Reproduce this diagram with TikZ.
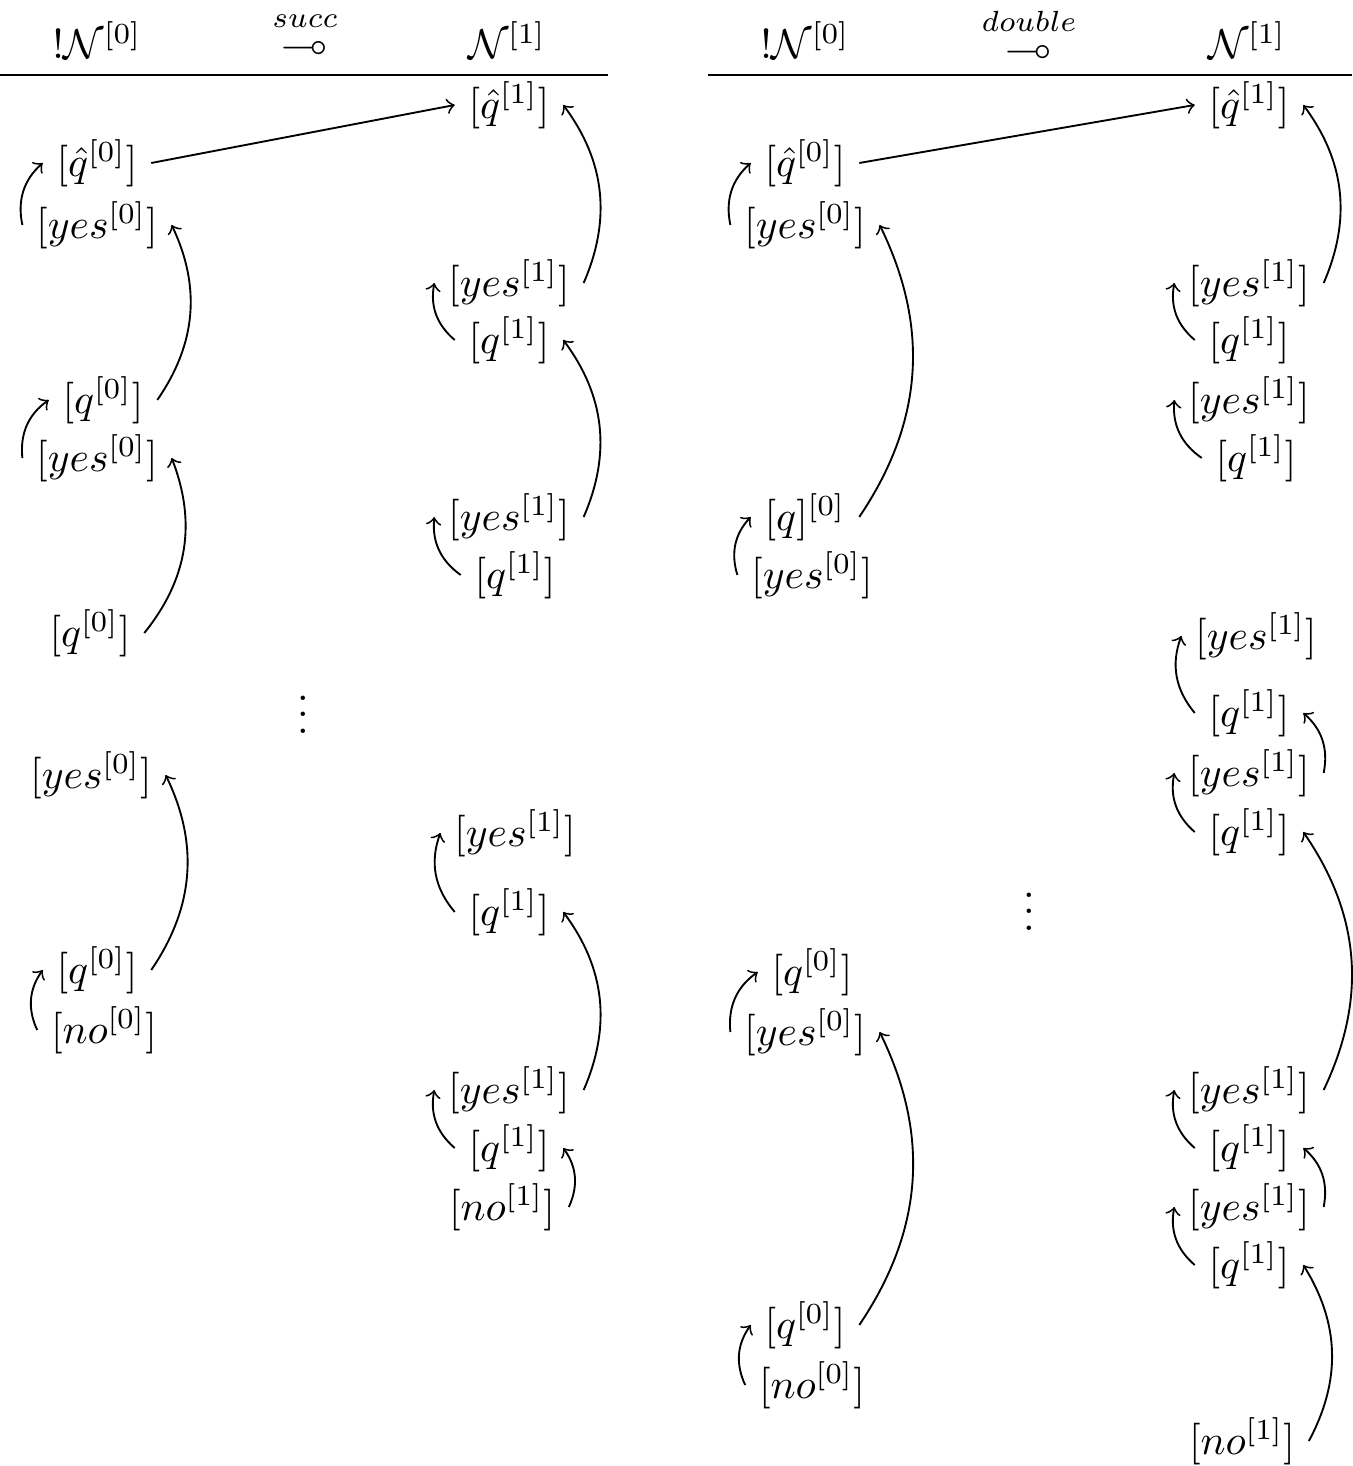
\documentclass[tikz,border=0pt]{standalone}
\usepackage{amsmath,amssymb}
\begin{document}
\begin{tikzpicture}[x=0.24pt,y=-0.24pt,
  every node/.style={inner sep=0pt,outer sep=3.33pt},
  arr/.style={->,line width=0.45pt},
  rulel/.style={line width=0.6pt}]
\useasboundingbox (0,0) rectangle (1352,1466);
% ---------- left panel ----------
\node (LhA) at (97,40) {$!\mathcal{N}^{[0]}$};
\node (LhB) at (305,35) {$\overset{succ}{\multimap}$};
\node (LhC) at (507,40) {$\mathcal{N}^{[1]}$};
\coordinate (LrA) at (0,75);
\coordinate (LrB) at (608,75);
\draw[rulel] (LrA) -- (LrB);
\node (Lhq1) at (509,105) {$[\hat{q}^{[1]}]$};
\node (Lhq0) at (97,163) {$[\hat{q}^{[0]}]$};
\node (Ly0a) at (97,225) {$[yes^{[0]}]$};
\node (Ly1a) at (509,283) {$[yes^{[1]}]$};
\node (Lq1a) at (509,340) {$[q^{[1]}]$};
\node (Lq0a) at (103,400) {$[q^{[0]}]$};
\node (Ly0b) at (97,458) {$[yes^{[0]}]$};
\node (Ly1b) at (509,517) {$[yes^{[1]}]$};
\node (Lq1b) at (515,575) {$[q^{[1]}]$};
\node (Lq0b) at (90,633) {$[q^{[0]}]$};
\node (Ldots) at (303,702) {$\vdots$};
\node (Ly0c) at (91,775) {$[yes^{[0]}]$};
\node (Ly1c) at (515,833) {$[yes^{[1]}]$};
\node (Lq1c) at (509,912) {$[q^{[1]}]$};
\node (Lq0c) at (97,970) {$[q^{[0]}]$};
\node (Ln0) at (104,1030) {$[no^{[0]}]$};
\node (Ly1d) at (509,1090) {$[yes^{[1]}]$};
\node (Lq1d) at (509,1148) {$[q^{[1]}]$};
\node (Ln1) at (502,1207) {$[no^{[1]}]$};
\draw[arr] (Lhq0.east) -- (Lhq1.west);
\draw[arr] (Ly0a.west) to[bend left] (Lhq0.west);
\draw[arr] (Lq0a.east) to[bend right] (Ly0a.east);
\draw[arr] (Ly1a.east) to[bend right] (Lhq1.east);
\draw[arr] (Lq1a.west) to[bend left] (Ly1a.west);
\draw[arr] (Ly0b.west) to[bend left] (Lq0a.west);
\draw[arr] (Lq0b.east) to[bend right] (Ly0b.east);
\draw[arr] (Ly1b.east) to[bend right] (Lq1a.east);
\draw[arr] (Lq1b.west) to[bend left] (Ly1b.west);
\draw[arr] (Lq0c.east) to[bend right] (Ly0c.east);
\draw[arr] (Ln0.west) to[bend left] (Lq0c.west);
\draw[arr] (Lq1c.west) to[bend left] (Ly1c.west);
\draw[arr] (Ly1d.east) to[bend right] (Lq1c.east);
\draw[arr] (Lq1d.west) to[bend left] (Ly1d.west);
\draw[arr] (Ln1.east) to[bend right] (Lq1d.east);
% ---------- right panel ----------
\node (RhA) at (805,40) {$!\mathcal{N}^{[0]}$};
\node (RhB) at (1029,35) {$\overset{double}{\multimap}$};
\node (RhC) at (1247,40) {$\mathcal{N}^{[1]}$};
\coordinate (RrA) at (708,75);
\coordinate (RrB) at (1352,75);
\draw[rulel] (RrA) -- (RrB);
\node (Rhq1) at (1249,105) {$[\hat{q}^{[1]}]$};
\node (Rhq0) at (805,163) {$[\hat{q}^{[0]}]$};
\node (Ry0a) at (805,225) {$[yes^{[0]}]$};
\node (Ry1a) at (1249,283) {$[yes^{[1]}]$};
\node (Rq1a) at (1249,340) {$[q^{[1]}]$};
\node (Ry1b) at (1249,400) {$[yes^{[1]}]$};
\node (Rq1b) at (1256,458) {$[q^{[1]}]$};
\node (Rq0a) at (805,517) {$[q]^{[0]}$};
\node (Ry0b) at (812,575) {$[yes^{[0]}]$};
\node (Ry1c) at (1256,636) {$[yes^{[1]}]$};
\node (Rq1c) at (1249,713) {$[q^{[1]}]$};
\node (Ry1d) at (1249,773) {$[yes^{[1]}]$};
\node (Rq1d) at (1249,832) {$[q^{[1]}]$};
\node (Rdots) at (1029,899) {$\vdots$};
\node (Rq0b) at (812,972) {$[q^{[0]}]$};
\node (Ry0c) at (805,1032) {$[yes^{[0]}]$};
\node (Ry1e) at (1249,1090) {$[yes^{[1]}]$};
\node (Rq1e) at (1249,1148) {$[q^{[1]}]$};
\node (Ry1f) at (1249,1207) {$[yes^{[1]}]$};
\node (Rq1f) at (1249,1265) {$[q^{[1]}]$};
\node (Rq0c) at (805,1325) {$[q^{[0]}]$};
\node (Rn0) at (812,1385) {$[no^{[0]}]$};
\node (Rn1) at (1242,1441) {$[no^{[1]}]$};
\draw[arr] (Rhq0.east) -- (Rhq1.west);
\draw[arr] (Ry0a.west) to[bend left] (Rhq0.west);
\draw[arr] (Rq0a.east) to[bend right] (Ry0a.east);
\draw[arr] (Ry0b.west) to[bend left] (Rq0a.west);
\draw[arr] (Ry1a.east) to[bend right] (Rhq1.east);
\draw[arr] (Rq1a.west) to[bend left] (Ry1a.west);
\draw[arr] (Rq1b.west) to[bend left] (Ry1b.west);
\draw[arr] (Rq1c.west) to[bend left] (Ry1c.west);
\draw[arr] (Ry1d.east) to[bend right] (Rq1c.east);
\draw[arr] (Rq1d.west) to[bend left] (Ry1d.west);
\draw[arr] (Ry1e.east) to[bend right] (Rq1d.east);
\draw[arr] (Rq1e.west) to[bend left] (Ry1e.west);
\draw[arr] (Ry1f.east) to[bend right] (Rq1e.east);
\draw[arr] (Rq1f.west) to[bend left] (Ry1f.west);
\draw[arr] (Rn1.east) to[bend right] (Rq1f.east);
\draw[arr] (Ry0c.west) to[bend left] (Rq0b.west);
\draw[arr] (Rq0c.east) to[bend right] (Ry0c.east);
\draw[arr] (Rn0.west) to[bend left] (Rq0c.west);
\end{tikzpicture}
\end{document}
